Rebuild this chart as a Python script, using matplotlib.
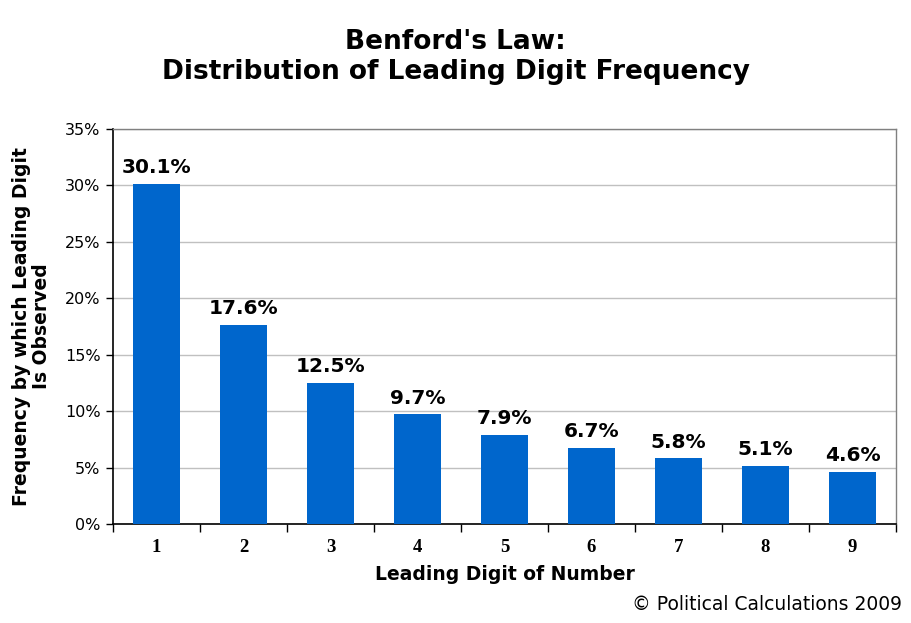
import matplotlib
matplotlib.use("Agg")
import matplotlib.pyplot as plt
from matplotlib.ticker import FuncFormatter, FixedLocator

# leading digits and their Benford frequencies (%)
digits = ['1', '2', '3', '4', '5', '6', '7', '8', '9']
freq = [30.1, 17.6, 12.5, 9.7, 7.9, 6.7, 5.8, 5.1, 4.6]
yticks = [0, 5, 10, 15, 20, 25, 30, 35]

fig = plt.figure(figsize=(9.11, 6.23), dpi=100)
ax = fig.add_axes([0.124, 0.159, 0.8595, 0.634])

x = list(range(len(digits)))
bars = ax.bar(x, freq, width=0.53, color='#0066CC', zorder=3)

ax.set_xlim(-0.5, len(digits) - 0.5)
ax.set_ylim(0, 35)
ax.set_yticks(yticks)
ax.yaxis.set_major_formatter(FuncFormatter(lambda v, p: '%d%%' % v))
ax.grid(axis='y', color='#c0c0c0', linewidth=1, zorder=0)
ax.tick_params(axis='y', length=5, width=1, direction='out', labelsize=11.5, pad=4)

# category labels at bar centres, ticks at category boundaries
ax.set_xticks(x)
ax.set_xticklabels(digits, fontfamily='Liberation Serif', fontweight='bold', fontsize=13.5)
ax.tick_params(axis='x', which='major', length=0, pad=11)
ax.xaxis.set_minor_locator(FixedLocator([i - 0.5 for i in range(len(digits) + 1)]))
ax.tick_params(axis='x', which='minor', length=6, width=1, direction='out')

for s in ['left', 'bottom']:
    ax.spines[s].set_color('black')
    ax.spines[s].set_linewidth(1.2)
for s in ['top', 'right']:
    ax.spines[s].set_color('#808080')
    ax.spines[s].set_linewidth(1)

for b, v in zip(bars, freq):
    ax.annotate('%.1f%%' % v, (b.get_x() + b.get_width() / 2, v),
                xytext=(0, 5), textcoords='offset points',
                ha='center', va='bottom', fontsize=14.5, fontweight='bold')

fig.text(0.5, 0.909, "Benford's Law:\nDistribution of Leading Digit Frequency",
         ha='center', va='center', fontsize=19, fontweight='bold', linespacing=1.2)
ax.set_xlabel('Leading Digit of Number', fontsize=13.5, fontweight='bold', labelpad=6)
fig.text(0.0345, 0.476, 'Frequency by which Leading Digit\nIs Observed', rotation=90,
         ha='center', va='center', multialignment='center', fontsize=13.5,
         fontweight='bold', linespacing=1.05)
fig.text(0.99, 0.029, '\u00a9 Political Calculations 2009', ha='right', va='center',
         fontsize=13.5)

fig.savefig('out.png', dpi=100)
